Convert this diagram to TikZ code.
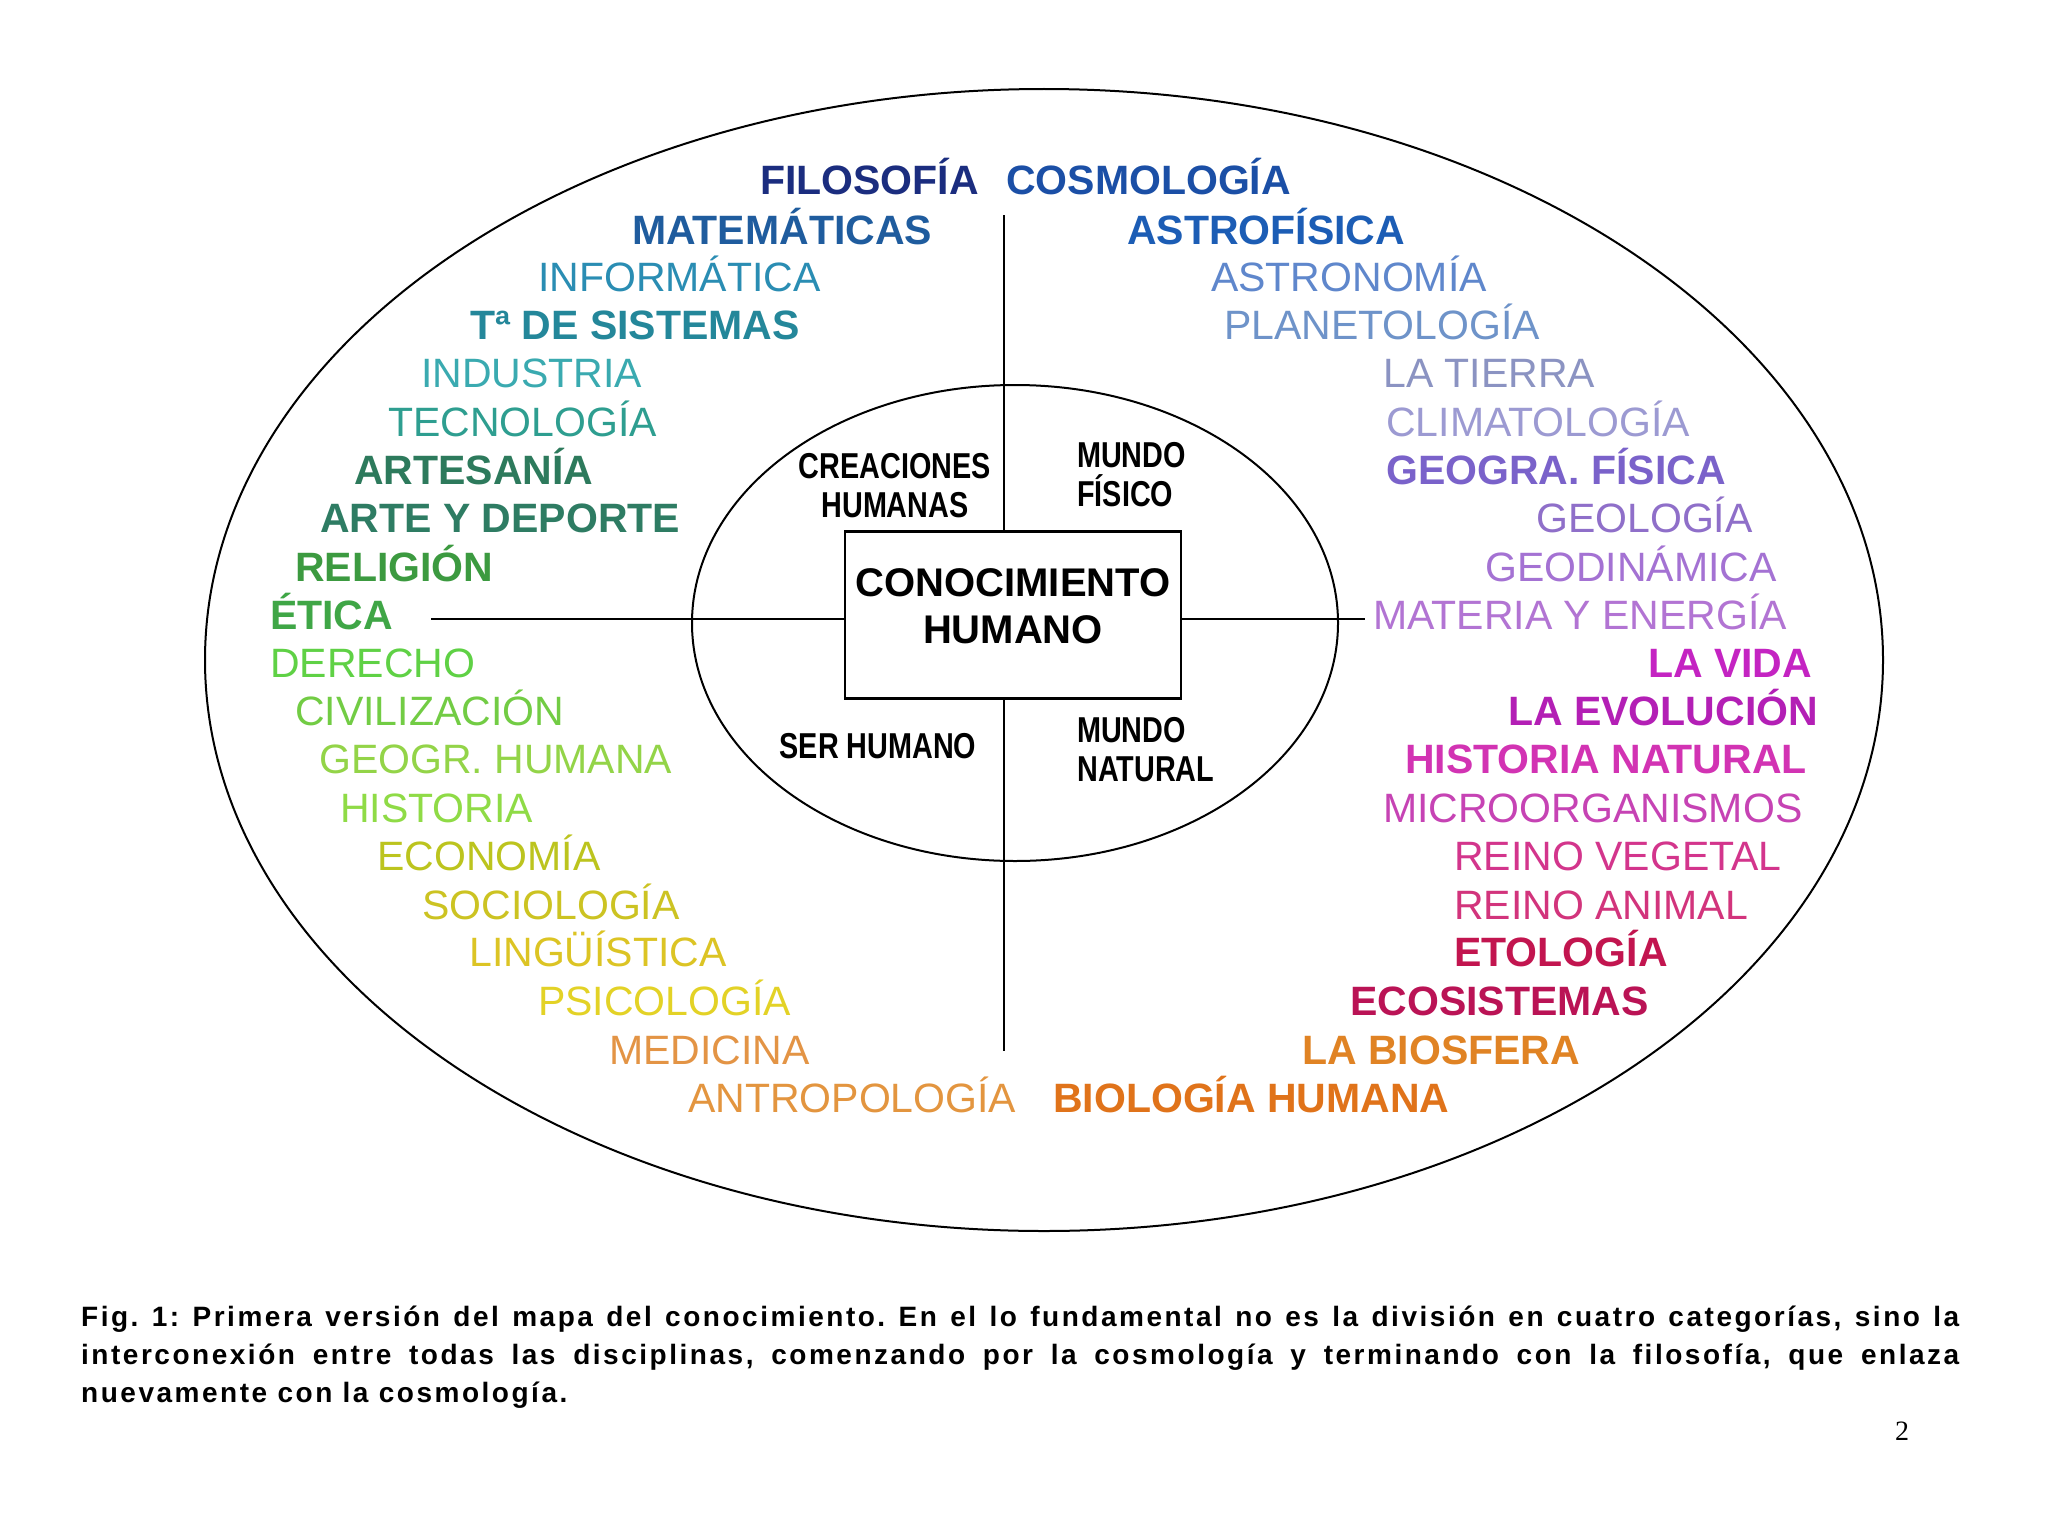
\documentclass[tikz,border=0pt]{standalone}
\usepackage{fontspec}
\setmainfont{Liberation Sans}
\newfontfamily\narrowfont[FakeStretch=0.8]{Liberation Sans}
\newfontfamily\pagefont{Liberation Serif}

\definecolor{cFilosofia}{HTML}{1B2D7F}
\definecolor{cMatematicas}{HTML}{1F5C9E}
\definecolor{cInformatica}{HTML}{2A8DB3}
\definecolor{cSistemas}{HTML}{24879A}
\definecolor{cIndustria}{HTML}{3AAAB0}
\definecolor{cTecnologia}{HTML}{2E9E90}
\definecolor{cArtesania}{HTML}{2D7A5C}
\definecolor{cArte}{HTML}{2E7C63}
\definecolor{cReligion}{HTML}{3C9A40}
\definecolor{cEtica}{HTML}{3FA646}
\definecolor{cDerecho}{HTML}{5FD145}
\definecolor{cCivilizacion}{HTML}{72CC44}
\definecolor{cGeogrHumana}{HTML}{93D448}
\definecolor{cHistoria}{HTML}{8FDB46}
\definecolor{cEconomia}{HTML}{BCC41E}
\definecolor{cSociologia}{HTML}{CCC322}
\definecolor{cLinguistica}{HTML}{DCC424}
\definecolor{cPsicologia}{HTML}{E3D226}
\definecolor{cMedicina}{HTML}{E39445}
\definecolor{cAntropologia}{HTML}{E3953F}
\definecolor{cCosmologia}{HTML}{1B4FA6}
\definecolor{cAstrofisica}{HTML}{1C5DB5}
\definecolor{cAstronomia}{HTML}{5F87CC}
\definecolor{cPlanetologia}{HTML}{6E93C9}
\definecolor{cTierra}{HTML}{8B93C2}
\definecolor{cClimatologia}{HTML}{9C9AD2}
\definecolor{cGeograFisica}{HTML}{7A62CA}
\definecolor{cGeologia}{HTML}{8F6FC9}
\definecolor{cGeodinamica}{HTML}{A472D3}
\definecolor{cMateria}{HTML}{B274D3}
\definecolor{cVida}{HTML}{C424C2}
\definecolor{cEvolucion}{HTML}{B31FB5}
\definecolor{cHistNatural}{HTML}{D233B3}
\definecolor{cMicro}{HTML}{C643B4}
\definecolor{cVegetal}{HTML}{D3358C}
\definecolor{cAnimal}{HTML}{D2347C}
\definecolor{cEtologia}{HTML}{C2154F}
\definecolor{cEcosistemas}{HTML}{BA1355}
\definecolor{cBiosfera}{HTML}{E08324}
\definecolor{cBiologia}{HTML}{E0731A}

\tikzset{
  word/.style={anchor=base west, inner sep=0pt, font=\fontsize{41}{41}\selectfont},
  boldword/.style={word, font=\fontsize{41}{41}\selectfont\bfseries},
  quadlabel/.style={inner sep=0pt, align=left, font=\narrowfont\bfseries\fontsize{36}{39}\selectfont},
  axis/.style={line width=2.5pt},
}

\begin{document}
\begin{tikzpicture}[x=1pt, y=-1pt]
  \fill[white] (0,0) rectangle (2048,1536);
  \useasboundingbox (0,0) rectangle (2048,1536);

  \draw[line width=2pt] (1044,660) ellipse [x radius=839, y radius=571];
  \draw[line width=2pt] (1015,623) ellipse [x radius=323, y radius=238];

  \node[draw, line width=2.5pt, minimum width=336pt, minimum height=167pt] (box) at (1013,615) {};
  \node[align=center, inner sep=0pt, font=\fontsize{40}{47}\selectfont\bfseries]
    (boxtext) at ([yshift=9pt]box.center) {CONOCIMIENTO\\HUMANO};

  \coordinate (top) at (1004,215);
  \coordinate (bottom) at (1004,1051);
  \coordinate (left) at (431,619);
  \coordinate (right) at (1365,619);
  \draw[axis] (top) -- (top |- box.north);
  \draw[axis] (box.south -| bottom) -- (bottom);
  \draw[axis] (left) -- (left -| box.west);
  \draw[axis] (box.east |- right) -- (right);

  \node[quadlabel, align=center] (creaciones) at (895,486) {CREACIONES\\HUMANAS};
  \node[quadlabel, anchor=west] (fisico) at (1077,475) {MUNDO\\FÍSICO};
  \node[quadlabel] (serhumano) at (878,746) {SER HUMANO};
  \node[quadlabel, anchor=west] (natural) at (1077,750) {MUNDO\\NATURAL};

  \node[boldword, text=cFilosofia] (filosofia) at (760,194) {FILOSOFÍA};
  \node[boldword, text=cMatematicas] (matematicas) at (632,244) {MATEMÁTICAS};
  \node[word, text=cInformatica] (informatica) at (538,291) {INFORMÁTICA};
  \node[boldword, text=cSistemas] (sistemas) at (470,339) {Tª DE SISTEMAS};
  \node[word, text=cIndustria] (industria) at (421,387) {INDUSTRIA};
  \node[word, text=cTecnologia] (tecnologia) at (388,436) {TECNOLOGÍA};
  \node[boldword, text=cArtesania] (artesania) at (354,484) {ARTESANÍA};
  \node[boldword, text=cArte] (arte) at (320,532) {ARTE Y DEPORTE};
  \node[boldword, text=cReligion] (religion) at (295,581) {RELIGIÓN};
  \node[boldword, text=cEtica] (etica) at (270,629) {ÉTICA};
  \node[word, text=cDerecho] (derecho) at (270,677) {DERECHO};
  \node[word, text=cCivilizacion] (civilizacion) at (295,725) {CIVILIZACIÓN};
  \node[word, text=cGeogrHumana] (geogrhumana) at (319,773) {GEOGR. HUMANA};
  \node[word, text=cHistoria] (historia) at (340,822) {HISTORIA};
  \node[word, text=cEconomia] (economia) at (377,870) {ECONOMÍA};
  \node[word, text=cSociologia] (sociologia) at (422,919) {SOCIOLOGÍA};
  \node[word, text=cLinguistica] (linguistica) at (469,966) {LINGÜÍSTICA};
  \node[word, text=cPsicologia] (psicologia) at (538,1015) {PSICOLOGÍA};
  \node[word, text=cMedicina] (medicina) at (609,1064) {MEDICINA};
  \node[word, text=cAntropologia] (antropologia) at (688,1112) {ANTROPOLOGÍA};

  \node[boldword, text=cCosmologia] (cosmologia) at (1006,194) {COSMOLOGÍA};
  \node[boldword, text=cAstrofisica] (astrofisica) at (1127,244) {ASTROFÍSICA};
  \node[word, text=cAstronomia] (astronomia) at (1211,291) {ASTRONOMÍA};
  \node[word, text=cPlanetologia] (planetologia) at (1224,339) {PLANETOLOGÍA};
  \node[word, text=cTierra] (tierra) at (1383,387) {LA TIERRA};
  \node[word, text=cClimatologia] (climatologia) at (1386,436) {CLIMATOLOGÍA};
  \node[boldword, text=cGeograFisica] (geografisica) at (1386,484) {GEOGRA. FÍSICA};
  \node[word, text=cGeologia] (geologia) at (1536,532) {GEOLOGÍA};
  \node[word, text=cGeodinamica] (geodinamica) at (1485,581) {GEODINÁMICA};
  \node[word, text=cMateria] (materia) at (1373,629) {MATERIA Y ENERGÍA};
  \node[boldword, text=cVida] (vida) at (1648,677) {LA VIDA};
  \node[boldword, text=cEvolucion] (evolucion) at (1508,725) {LA EVOLUCIÓN};
  \node[boldword, text=cHistNatural] (histnatural) at (1405,773) {HISTORIA NATURAL};
  \node[word, text=cMicro] (micro) at (1383,822) {MICROORGANISMOS};
  \node[word, text=cVegetal] (vegetal) at (1454,870) {REINO VEGETAL};
  \node[word, text=cAnimal] (animal) at (1454,919) {REINO ANIMAL};
  \node[boldword, text=cEtologia] (etologia) at (1454,966) {ETOLOGÍA};
  \node[boldword, text=cEcosistemas] (ecosistemas) at (1350,1015) {ECOSISTEMAS};
  \node[boldword, text=cBiosfera] (biosfera) at (1302,1064) {LA BIOSFERA};
  \node[boldword, text=cBiologia] (biologia) at (1053,1112) {BIOLOGÍA HUMANA};

  \node[anchor=north west, inner sep=0pt, align=left,
        font=\fontsize{28}{38}\selectfont\bfseries\addfontfeatures{LetterSpace=9}\frenchspacing] (caption) at (81,1306)
    {\makebox[1878pt][s]{Fig. 1: Primera versión del mapa del conocimiento. En el lo fundamental no es la división en cuatro categorías, sino la}\\
     \makebox[1878pt][s]{interconexión entre todas las disciplinas, comenzando por la cosmología y terminando con la filosofía, que enlaza}\\
     nuevamente con la cosmología.};
  \node[font=\pagefont\fontsize{28}{28}\selectfont] (pagenum) at (1902,1431) {2};
\end{tikzpicture}
\end{document}
